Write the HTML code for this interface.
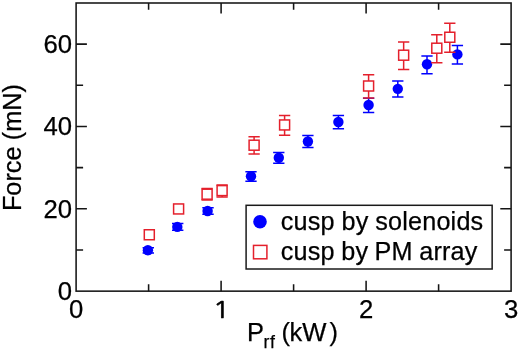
<!DOCTYPE html>
<html><head><meta charset="utf-8"><title>Force vs Prf</title>
<style>
html,body{margin:0;padding:0;background:#fff;}
svg{display:block;}
text{font-family:"Liberation Sans",sans-serif;fill:#000;stroke:#000;stroke-width:0.25px;}
</style></head><body>
<svg width="520" height="351" viewBox="0 0 520 351">
<rect x="0" y="0" width="520" height="351" fill="#fff"/>
<rect x="76.1" y="3.0" width="435.0" height="288.15" fill="none" stroke="#151515" stroke-width="1.55"/>
<path d="M148.60 291.15V284.35M148.60 3.0V9.80M221.10 291.15V280.75M221.10 3.0V13.40M293.60 291.15V284.35M293.60 3.0V9.80M366.10 291.15V280.75M366.10 3.0V13.40M438.60 291.15V284.35M438.60 3.0V9.80M76.1 249.97H83.10M511.1 249.97H504.10M76.1 208.80H86.90M511.1 208.80H500.30M76.1 167.62H83.10M511.1 167.62H504.10M76.1 126.45H86.90M511.1 126.45H500.30M76.1 85.27H83.10M511.1 85.27H504.10M76.1 44.10H86.90M511.1 44.10H500.30" stroke="#151515" stroke-width="1.55" fill="none"/>
<text x="72" y="300.15" font-size="25.7" text-anchor="end">0</text>
<text x="72" y="217.80" font-size="25.7" text-anchor="end">20</text>
<text x="72" y="135.45" font-size="25.7" text-anchor="end">40</text>
<text x="72" y="53.10" font-size="25.7" text-anchor="end">60</text>
<text x="76.10" y="318.2" font-size="25.7" text-anchor="middle">0</text>
<text x="366.10" y="318.2" font-size="25.7" text-anchor="middle">2</text>
<text x="511.10" y="318.2" font-size="25.7" text-anchor="middle">3</text>
<text transform="translate(212.7,317.8) scale(1.2,1)" font-size="23.8" style="font-family:NanumGothic,'Liberation Sans',sans-serif;stroke-width:0.6px;stroke-linejoin:miter">1</text>
<text transform="translate(21.3,147.6) rotate(-90)" font-size="25.3" word-spacing="-0.85" text-anchor="middle">Force (mN)</text>
<text y="341.0" font-size="25.4"><tspan x="246.9">P</tspan><tspan x="263.4" font-size="17.7" dy="6.9" letter-spacing="0.6">rf </tspan><tspan x="281.6" dy="-6.9">(</tspan><tspan x="289.6">k</tspan><tspan x="302.3" textLength="24.2" lengthAdjust="spacingAndGlyphs">W</tspan><tspan x="329.6">)</tspan></text>
<path d="M142.60 247.7H154.00M142.60 252.9H154.00" stroke="#0000ff" stroke-width="1.5" fill="none"/>
<circle cx="147.9" cy="250.3" r="5.2" fill="#0000ff"/>
<path d="M172.00 223.6H183.40M172.00 230.2H183.40" stroke="#0000ff" stroke-width="1.5" fill="none"/>
<circle cx="177.3" cy="226.9" r="5.2" fill="#0000ff"/>
<path d="M202.30 207.8H213.70M202.30 214.3H213.70" stroke="#0000ff" stroke-width="1.5" fill="none"/>
<circle cx="207.6" cy="211.0" r="5.2" fill="#0000ff"/>
<path d="M251.0 171.65V181.15M245.35 171.65H256.65M245.35 181.15H256.65" stroke="#0000ff" stroke-width="1.5" fill="none"/>
<circle cx="251.0" cy="176.3" r="5.2" fill="#0000ff"/>
<path d="M278.8 152.45V163.15M273.15 152.45H284.45M273.15 163.15H284.45" stroke="#0000ff" stroke-width="1.5" fill="none"/>
<circle cx="278.8" cy="157.75" r="5.2" fill="#0000ff"/>
<path d="M307.9 135.5V147.5M302.25 135.5H313.55M302.25 147.5H313.55" stroke="#0000ff" stroke-width="1.5" fill="none"/>
<circle cx="307.9" cy="141.5" r="5.2" fill="#0000ff"/>
<path d="M338.4 115.5V128.7M332.75 115.5H344.05M332.75 128.7H344.05" stroke="#0000ff" stroke-width="1.5" fill="none"/>
<circle cx="338.4" cy="122.0" r="5.2" fill="#0000ff"/>
<path d="M368.6 98.2V112.5M362.95 98.2H374.25M362.95 112.5H374.25" stroke="#0000ff" stroke-width="1.5" fill="none"/>
<circle cx="368.6" cy="105.0" r="5.2" fill="#0000ff"/>
<path d="M397.8 81.05V97.0M392.15 81.05H403.45M392.15 97.0H403.45" stroke="#0000ff" stroke-width="1.5" fill="none"/>
<circle cx="397.8" cy="88.85" r="5.2" fill="#0000ff"/>
<path d="M427.0 55.95V73.7M421.35 55.95H432.65M421.35 73.7H432.65" stroke="#0000ff" stroke-width="1.5" fill="none"/>
<circle cx="427.0" cy="64.3" r="5.2" fill="#0000ff"/>
<path d="M457.4 45.45V64.1M451.75 45.45H463.05M451.75 64.1H463.05" stroke="#0000ff" stroke-width="1.5" fill="none"/>
<circle cx="457.4" cy="54.4" r="5.2" fill="#0000ff"/>
<rect x="144.30" y="229.75" width="10.0" height="10.0" fill="#fff" stroke="#e4202c" stroke-width="1.5"/>
<rect x="173.60" y="203.95" width="10.0" height="10.0" fill="#fff" stroke="#e4202c" stroke-width="1.5"/>
<path d="M207.1 188.4V200.0M201.45 188.4H212.75M201.45 200.0H212.75" stroke="#e4202c" stroke-width="1.5" fill="none"/>
<rect x="202.10" y="189.20" width="10.0" height="10.0" fill="#fff" stroke="#e4202c" stroke-width="1.5"/>
<path d="M222.1 184.9V197.0M216.45 184.9H227.75M216.45 197.0H227.75" stroke="#e4202c" stroke-width="1.5" fill="none"/>
<rect x="217.10" y="185.60" width="10.0" height="10.0" fill="#fff" stroke="#e4202c" stroke-width="1.5"/>
<path d="M254.1 136.75V153.9M248.45 136.75H259.75M248.45 153.9H259.75" stroke="#e4202c" stroke-width="1.5" fill="none"/>
<rect x="249.10" y="140.20" width="10.0" height="10.0" fill="#fff" stroke="#e4202c" stroke-width="1.5"/>
<path d="M284.6 115.5V135.15M278.95 115.5H290.25M278.95 135.15H290.25" stroke="#e4202c" stroke-width="1.5" fill="none"/>
<rect x="279.60" y="119.95" width="10.0" height="10.0" fill="#fff" stroke="#e4202c" stroke-width="1.5"/>
<path d="M368.6 74.85V98.1M362.95 74.85H374.25M362.95 98.1H374.25" stroke="#e4202c" stroke-width="1.5" fill="none"/>
<rect x="363.60" y="81.00" width="10.0" height="10.0" fill="#fff" stroke="#e4202c" stroke-width="1.5"/>
<path d="M403.65 42.0V69.6M398.00 42.0H409.30M398.00 69.6H409.30" stroke="#e4202c" stroke-width="1.5" fill="none"/>
<rect x="398.65" y="50.20" width="10.0" height="10.0" fill="#fff" stroke="#e4202c" stroke-width="1.5"/>
<path d="M436.8 34.75V62.7M431.15 34.75H442.45M431.15 62.7H442.45" stroke="#e4202c" stroke-width="1.5" fill="none"/>
<rect x="431.80" y="43.20" width="10.0" height="10.0" fill="#fff" stroke="#e4202c" stroke-width="1.5"/>
<path d="M449.8 23.2V52.15M444.15 23.2H455.45M444.15 52.15H455.45" stroke="#e4202c" stroke-width="1.5" fill="none"/>
<rect x="444.80" y="32.25" width="10.0" height="10.0" fill="#fff" stroke="#e4202c" stroke-width="1.5"/>
<rect x="246.1" y="205.3" width="246.05" height="63.70" fill="#fff" stroke="#1a1a1a" stroke-width="1.5"/>
<circle cx="260" cy="221.8" r="6.8" fill="#0000ff"/>
<rect x="253.5" y="245.4" width="13.4" height="13.4" fill="#fff" stroke="#e4202c" stroke-width="1.5"/>
<text x="280.8" y="230.3" font-size="25.2" letter-spacing="0.2" word-spacing="-0.5">cusp by solenoids</text>
<text x="280.8" y="260.4" font-size="25.2" letter-spacing="0.2" word-spacing="-0.8">cusp by PM array</text>
</svg></body></html>
